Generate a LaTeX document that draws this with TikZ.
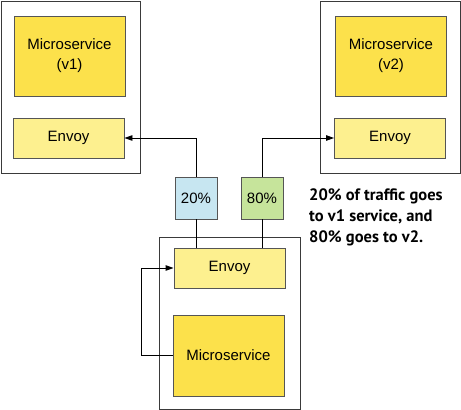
\documentclass[tikz,border=0pt]{standalone}
\usepackage{fontspec}
\setmainfont{Liberation Sans}
\newfontfamily\capfont{PT Sans}
\usetikzlibrary{arrows.meta}
\definecolor{msyel}{HTML}{FCE14B}
\definecolor{envyel}{HTML}{FDF08F}
\definecolor{pblue}{HTML}{C7E6F1}
\definecolor{pgreen}{HTML}{C6E49B}
\definecolor{bord}{HTML}{555555}
\definecolor{outer}{HTML}{3A3A3A}
\tikzset{
  box/.style={draw=bord, line width=0.9pt, rectangle, align=center, inner sep=0pt,
    font=\fontsize{15}{18}\selectfont},
  outerbox/.style={draw=outer, line width=1pt, rectangle, inner sep=0pt},
  msbox/.style={box, fill=msyel, minimum width=111pt, minimum height=80pt},
  envbox/.style={box, fill=envyel, minimum width=111pt, minimum height=40pt},
  pctbox/.style={box, minimum width=42pt, minimum height=42pt},
  conn/.style={draw=black, line width=0.9pt},
  arr/.style={conn, -{Triangle[length=8pt,width=5.5pt]}}
}
\begin{document}
\begin{tikzpicture}[x=1pt,y=-1pt]
\useasboundingbox (0,0) rectangle (461,410);
% outer containers
\node[outerbox, minimum width=139pt, minimum height=172pt] (out1) at (70.5,87) {};
\node[outerbox, minimum width=140pt, minimum height=172pt] (out2) at (390,87) {};
\node[outerbox, minimum width=141pt, minimum height=172pt] (outB) at (229.5,323) {};
% services
\node[msbox] (ms1) at (69.5,56) {Microservice\\[2pt](v1)};
\node[envbox] (env1) at (68.5,138) {Envoy};
\node[msbox] (ms2) at (391,56) {Microservice\\[2pt](v2)};
\node[envbox] (env2) at (390,138) {Envoy};
\node[envbox] (envB) at (229.5,268) {Envoy};
\node[msbox, minimum height=81pt] (msB) at (228.5,355.5) {Microservice};
% percentage boxes
\node[pctbox, fill=pblue] (p20) at (196,198) {20\%};
\node[pctbox, fill=pgreen] (p80) at (262,198) {80\%};
% connectors
\draw[arr] (p20.north) |- (env1.east);
\draw[arr] (p80.north) |- (env2.west);
\draw[conn] (p20.south) -- (p20.south |- envB.north);
\draw[conn] (p80.south) -- (p80.south |- envB.north);
\draw[arr] (msB.west) -- ++(-31,0) |- (envB.west);
% caption
\node[anchor=north west, align=left, inner sep=0pt,
  font=\capfont\bfseries\fontsize{16.5}{21}\selectfont] (cap) at (309,189)
  {20\% of traffic goes\\to v1 service, and\\80\% goes to v2.};
\end{tikzpicture}
\end{document}
